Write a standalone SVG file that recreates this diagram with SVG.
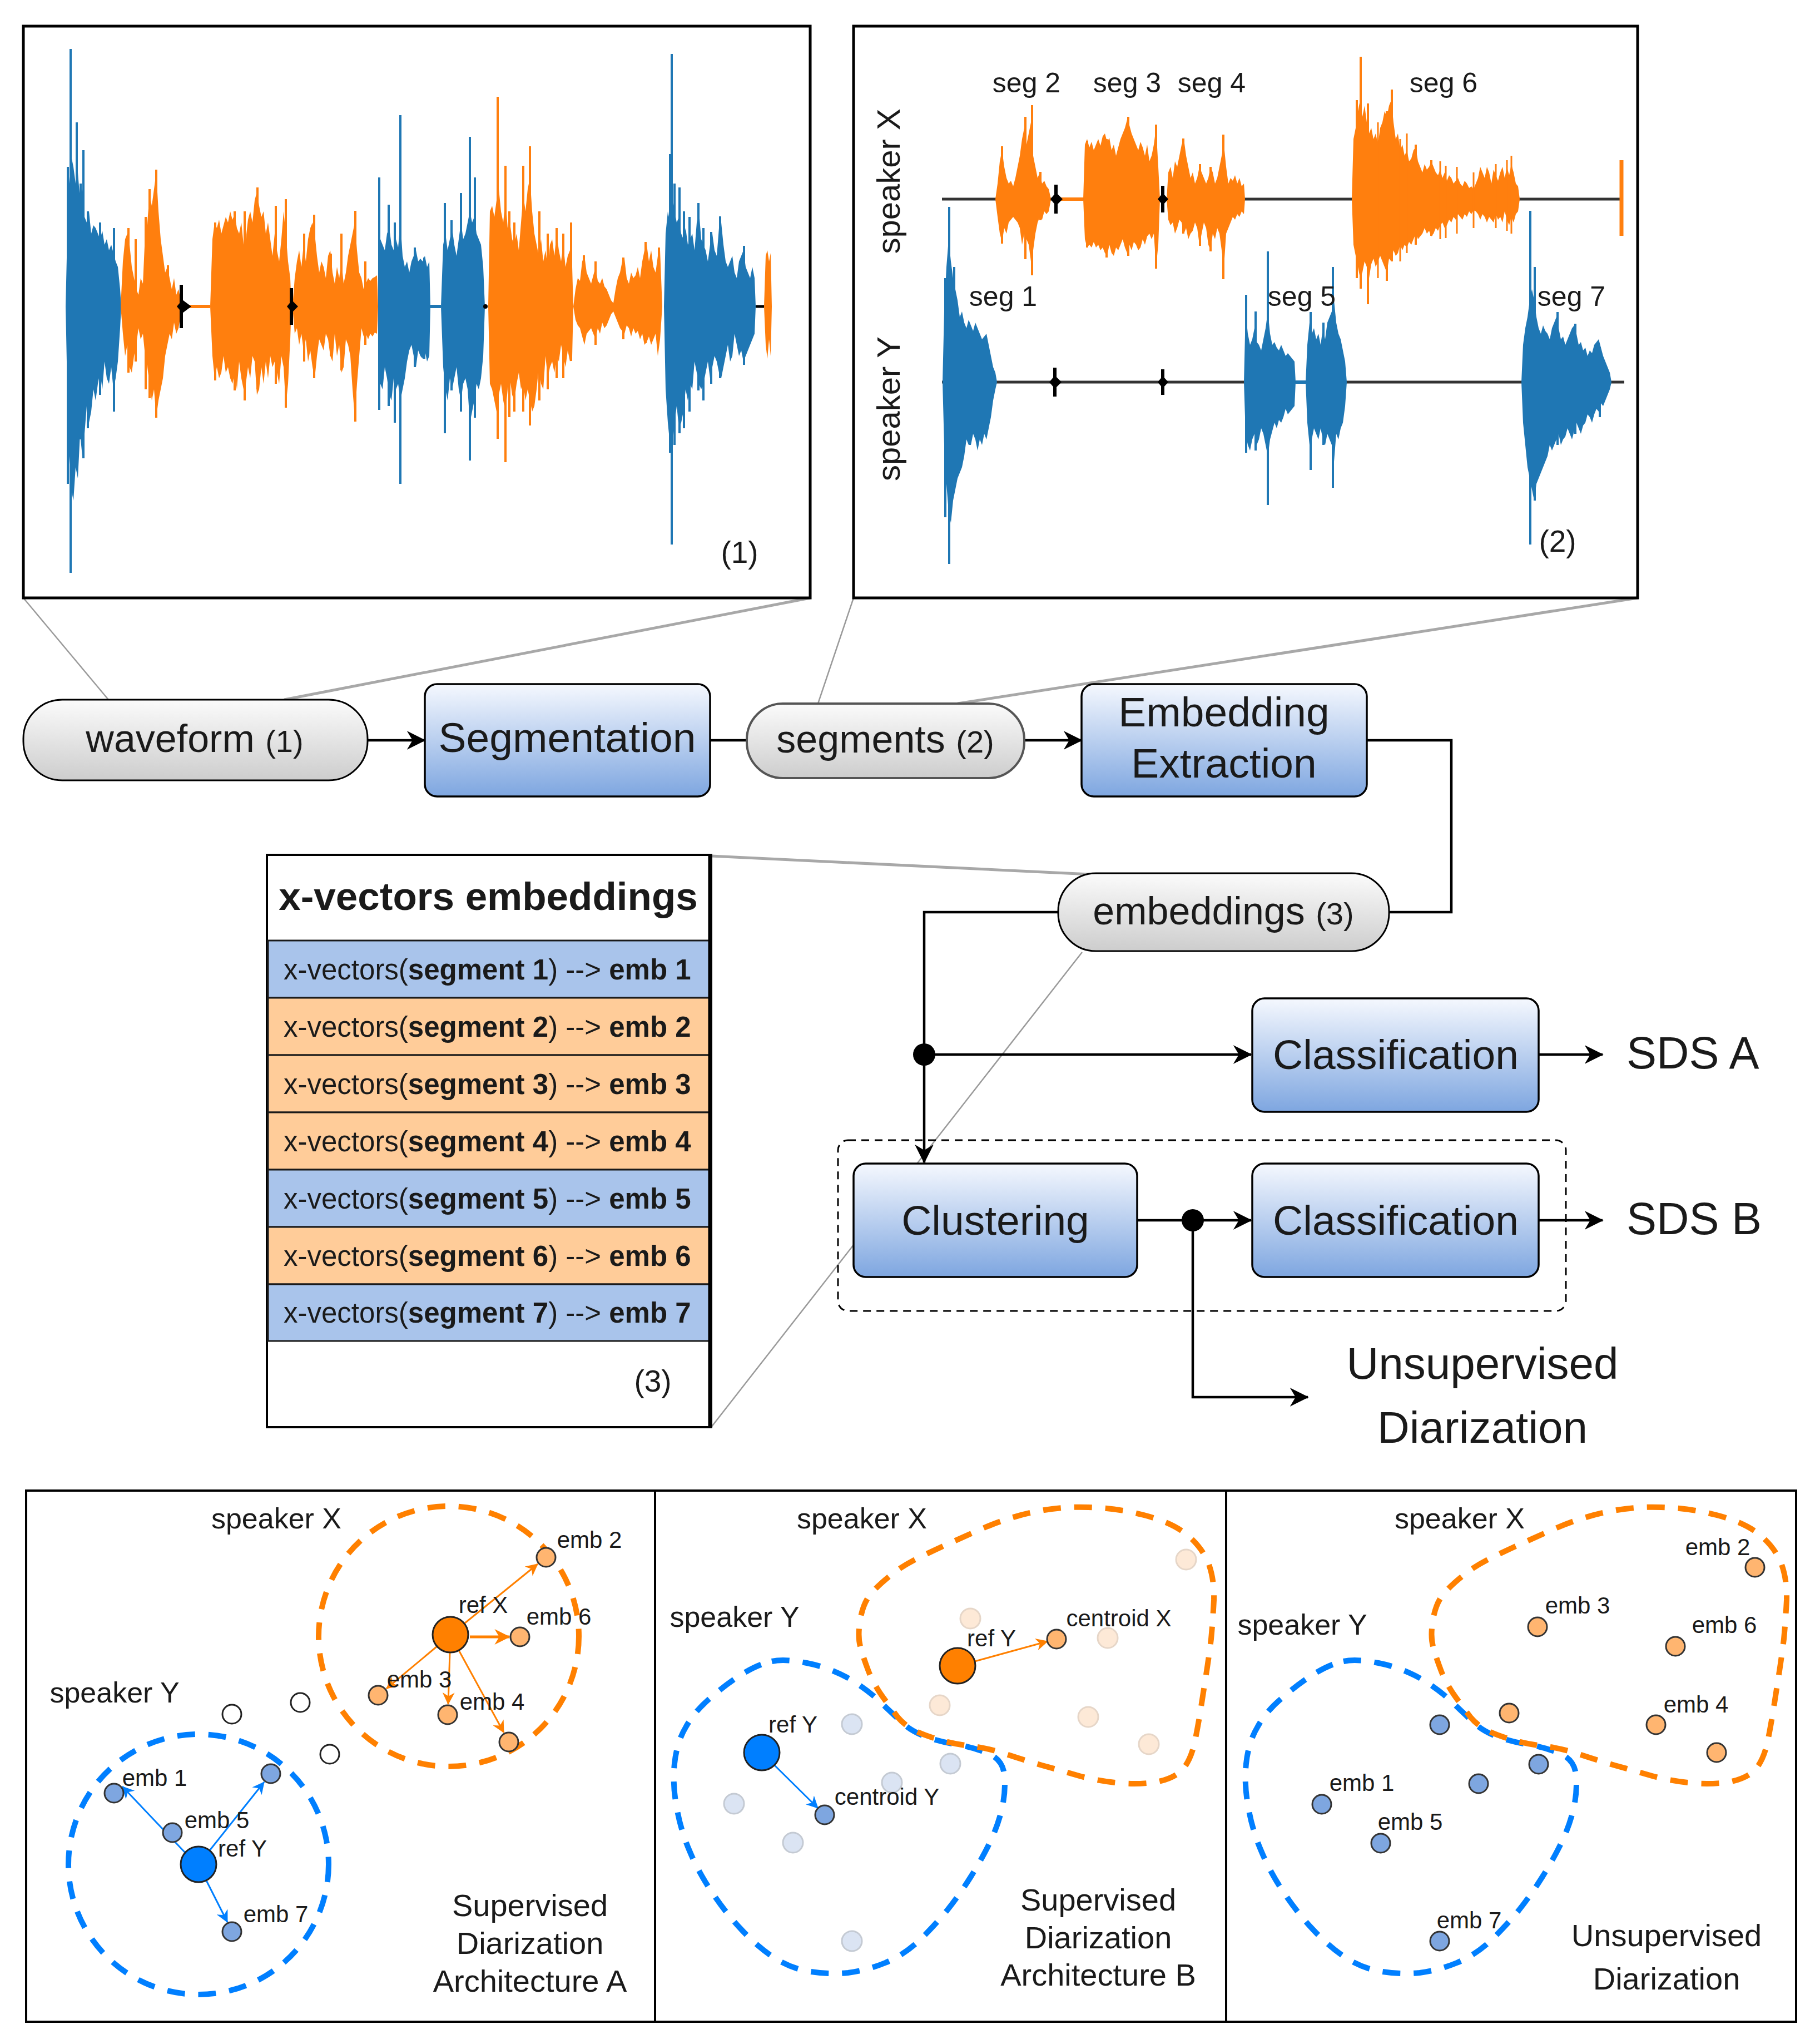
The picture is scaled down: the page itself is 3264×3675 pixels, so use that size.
<svg xmlns="http://www.w3.org/2000/svg" width="3264" height="3675" viewBox="0 0 3264 3675">
<defs>
<linearGradient id="gBlue" x1="0" y1="0" x2="0" y2="1"><stop offset="0" stop-color="#f5f8fe"/><stop offset="1" stop-color="#7ea6e0"/></linearGradient>
<linearGradient id="gGray" x1="0" y1="0" x2="0" y2="1"><stop offset="0" stop-color="#fbfbfb"/><stop offset="1" stop-color="#cdcdcd"/></linearGradient>
<marker id="aK" viewBox="0 0 10 10" refX="9.5" refY="5" markerWidth="34" markerHeight="34" markerUnits="userSpaceOnUse" orient="auto"><path d="M0,0L10,5L0,10L3,5z" fill="#000"/></marker>
<marker id="aO" viewBox="0 0 10 10" refX="9.5" refY="5" markerWidth="22" markerHeight="22" markerUnits="userSpaceOnUse" orient="auto"><path d="M0,0L10,5L0,10L3,5z" fill="#ff8000"/></marker>
<marker id="aO2" viewBox="0 0 10 10" refX="9.5" refY="5" markerWidth="28" markerHeight="28" markerUnits="userSpaceOnUse" orient="auto"><path d="M0,0L10,5L0,10L3,5z" fill="#ff8000"/></marker>
<marker id="aB" viewBox="0 0 10 10" refX="9.5" refY="5" markerWidth="22" markerHeight="22" markerUnits="userSpaceOnUse" orient="auto"><path d="M0,0L10,5L0,10L3,5z" fill="#007fff"/></marker>
<style>
text{font-family:"Liberation Sans",Arial,sans-serif;fill:#1a1a1a}
.frame{fill:#fff;stroke:#000;stroke-width:5}
.wb{fill:#1f77b4}.wo{fill:#ff7f0e}
.sb{stroke:#1f77b4;stroke-width:4;fill:none}.so{stroke:#ff7f0e;stroke-width:4;fill:none}
.sb3{stroke:#1f77b4;stroke-width:3;fill:none}.so3{stroke:#ff7f0e;stroke-width:3;fill:none}
.mk{stroke:#000;stroke-width:6;fill:none}
.seg{font-size:50px;text-anchor:middle}
.box{fill:url(#gBlue);stroke:#000;stroke-width:3.5}
.pill{fill:url(#gGray);stroke:#000;stroke-width:3}
.lbl{font-size:75px;text-anchor:middle}
.plbl{font-size:70px;text-anchor:middle}
.conn{stroke:#000;stroke-width:4.5;fill:none}
.proj{stroke:#9a9a9a;stroke-width:2.5;fill:none}
.projT{stroke:#a8a8a8;stroke-width:5;fill:none}
.rowB{fill:#a9c4eb;stroke:#1a1a1a;stroke-width:3}
.rowO{fill:#ffcc99;stroke:#1a1a1a;stroke-width:3}
.rt{font-size:51px}
.odash{fill:none;stroke:#ff8000;stroke-width:10;stroke-dasharray:32 24}
.bdash{fill:none;stroke:#007fff;stroke-width:10;stroke-dasharray:32 24}
.po{fill:#ffb570;stroke:#333;stroke-width:3}
.pb{fill:#7ea6e0;stroke:#333;stroke-width:3}
.pw{fill:#fff;stroke:#222;stroke-width:3}
.fo{fill:#fde9d7;stroke:#e6d6c8;stroke-width:3}
.fb{fill:#dbe4f3;stroke:#c4cad3;stroke-width:3}
.refO{fill:#ff8000;stroke:#222;stroke-width:3}
.refB{fill:#007fff;stroke:#222;stroke-width:3}
.ao{stroke:#ff8000;stroke-width:3;fill:none}
.ab{stroke:#007fff;stroke-width:3;fill:none}
.sm{font-size:42px;text-anchor:middle}
.sp{font-size:52px;text-anchor:middle}
.cap{font-size:56px;text-anchor:middle}
</style>
</defs>

<!-- projection lines -->
<g id="projections">
<path class="proj" d="M42,1075L195,1258"/>
<path class="projT" d="M1457,1075L511,1258"/>
<path class="proj" d="M1535,1075L1471,1265"/>
<path class="projT" d="M2945,1075L1722,1265"/>
<path class="projT" d="M1279,1539L1960,1572"/>
<path class="proj" d="M1279,2566L1946,1712"/>
</g>

<!-- Box 1: waveform -->
<g id="waveform-plot">
<rect class="frame" x="42" y="47" width="1415" height="1028"/>
<path d="M326,551H378" stroke="#ff7f0e" stroke-width="6"/>
<path d="M774,551H793" stroke="#1f77b4" stroke-width="6"/>
<path d="M1359,551H1374" stroke="#000" stroke-width="5"/>
<polygon class="wb" points="118,551 121,420 124,330 128,280 132,300 136,330 140,310 144,360 148,340 152,390 156,400 160,380 164,420 168,405 172,410 176,420 180,430 184,415 188,440 192,430 196,450 200,440 204,455 208,470 212,480 216,520 218,551 216,590 212,650 208,680 204,700 200,660 196,690 192,680 188,650 184,700 180,670 176,690 172,720 168,700 164,740 160,760 156,730 152,780 148,820 144,780 140,860 136,840 132,900 128,880 124,820 121,700"/>
<path class="sb" d="M127,88V1030M122,300V870M138,220V830M150,270V824M145,330V790M158,380V770M180,400V710M205,410V740"/>
<polygon class="wo" points="217,551 221,470 225,430 229,420 233,440 237,480 241,500 245,520 249,530 253,500 257,510 261,420 265,400 269,350 273,370 277,340 281,310 285,380 289,430 293,460 297,490 301,480 305,500 309,520 313,500 317,530 321,520 326,545 326,560 321,590 317,600 313,580 309,610 305,600 301,620 297,640 293,680 289,700 285,720 281,750 277,700 273,720 269,690 265,660 261,640 257,600 253,610 249,590 245,620 241,640 237,670 233,660 229,620 225,640 221,600"/>
<path class="so" d="M231,410V670M281,305V751M269,340V716M302,477V603M262,390V700M244,430V650"/>
<polygon class="wo" points="378,551 382,430 386,400 390,410 394,395 398,420 402,405 406,390 410,400 414,380 418,395 422,385 426,410 430,420 434,400 438,440 442,430 446,395 450,380 454,400 458,360 462,345 466,370 470,390 474,380 478,420 482,400 486,430 490,460 494,420 498,450 502,470 506,430 510,380 514,420 518,470 522,500 524,551 522,610 518,690 514,730 510,660 506,640 502,690 498,670 494,650 490,660 486,640 482,680 478,650 474,690 470,660 466,700 462,710 458,650 454,640 450,680 446,660 442,690 438,700 434,680 430,650 426,700 422,670 418,690 414,680 410,660 406,670 402,640 398,670 394,680 390,660 386,680 382,640"/>
<path class="so" d="M463,337V700M514,358V733M422,380V702M387,400V684M440,380V720M496,370V690"/>
<polygon class="wo" points="526,551 530,500 534,470 538,450 542,480 546,440 550,470 554,430 558,410 562,400 566,420 570,460 574,490 578,470 582,480 586,500 590,460 594,450 598,490 602,510 606,480 610,500 614,470 618,510 622,490 626,460 630,440 634,420 638,400 642,450 646,490 650,500 654,520 658,510 662,500 666,505 670,500 674,498 678,495 680,551 678,600 674,598 670,605 666,600 662,610 658,600 654,605 650,590 646,640 642,690 638,750 634,700 630,640 626,620 622,610 618,660 614,670 610,620 606,640 602,600 598,650 594,640 590,610 586,600 582,630 578,620 574,610 570,640 566,680 562,660 558,630 554,650 550,610 546,630 542,600 538,620 534,590 530,600"/>
<path class="so" d="M565,386V680M639,379V758M614,420V666M595,456V640M547,420V650M657,470V620"/>
<polygon class="wb" points="680,551 684,430 688,440 692,450 696,420 700,410 704,440 708,450 712,430 716,445 720,400 724,460 728,480 732,470 736,490 740,470 744,460 748,450 752,470 756,465 760,470 764,460 768,480 772,470 774,551 772,640 768,650 764,630 760,645 756,640 752,630 748,660 744,640 740,620 736,630 732,650 728,680 724,700 720,720 716,690 712,700 708,680 704,720 700,710 696,680 692,660 688,700 684,690"/>
<path class="sb" d="M682,319V737M699,368V730M720,207V870M746,445V660M763,463V645M710,400V760"/>
<polygon class="wb" points="793,551 797,440 801,420 805,450 809,430 813,410 817,440 821,460 825,430 829,400 833,430 837,420 841,400 845,380 849,400 853,390 857,420 861,430 865,440 869,480 872,551 869,640 865,680 861,700 857,690 853,720 849,740 845,760 841,700 837,680 833,690 829,720 825,700 821,660 817,680 813,700 809,680 805,720 801,700 797,660"/>
<path class="sb" d="M800,365V779M829,347V740M845,246V828M854,319V751M812,396V702"/>
<polygon class="wo" points="878,551 881,380 885,370 889,390 893,360 897,340 901,380 905,400 909,360 913,410 917,400 921,430 925,440 929,420 933,450 937,400 941,350 945,380 949,340 953,320 957,380 961,420 965,440 969,460 973,430 977,470 981,450 985,480 989,440 993,430 997,460 1001,420 1005,450 1009,470 1013,440 1017,480 1021,460 1025,450 1029,480 1031,551 1029,640 1025,650 1021,630 1017,660 1013,640 1009,620 1005,650 1001,640 997,670 993,650 989,660 985,680 981,640 977,700 973,690 969,660 965,700 961,730 957,740 953,720 949,700 945,720 941,690 937,700 933,670 929,690 925,720 921,710 917,680 913,700 909,740 905,720 901,690 897,710 893,740 889,720 885,700 881,690"/>
<path class="so" d="M895,174V789M909,298V831M953,263V765M941,298V740M916,380V750M1027,400V649M1001,410V680M970,380V720M925,400V740M985,420V700M1013,420V680"/>
<polygon class="wo" points="1031,551 1035,520 1039,500 1043,505 1047,470 1051,460 1055,490 1059,500 1063,510 1067,495 1071,480 1075,505 1079,510 1083,500 1087,515 1091,520 1095,530 1099,540 1103,545 1107,520 1111,500 1115,490 1119,470 1123,465 1127,500 1131,510 1135,490 1139,500 1143,495 1147,480 1151,500 1155,470 1159,450 1163,440 1167,470 1171,450 1175,480 1179,490 1183,460 1187,450 1191,551 1187,610 1183,640 1179,600 1175,610 1171,620 1167,605 1163,615 1159,620 1155,600 1151,610 1147,595 1143,600 1139,590 1135,605 1131,590 1127,585 1123,600 1119,595 1115,590 1111,580 1107,570 1103,560 1099,565 1095,575 1091,585 1087,590 1083,580 1079,600 1075,590 1071,610 1067,600 1063,590 1059,595 1055,600 1051,620 1047,605 1043,590 1039,585 1035,575"/>
<path class="so" d="M1050,459V596M1121,463V610M1161,435V617M1185,445V603M1071,470V620"/>
<polygon class="wb" points="1194,551 1197,420 1201,380 1205,400 1209,360 1213,380 1217,400 1221,390 1225,420 1229,430 1233,410 1237,440 1241,430 1245,420 1249,450 1253,400 1257,380 1261,430 1265,440 1269,450 1273,470 1277,440 1281,420 1285,450 1289,460 1293,410 1297,400 1301,440 1305,470 1309,480 1313,470 1317,460 1321,490 1325,500 1329,470 1333,460 1337,450 1341,480 1345,490 1349,500 1353,480 1357,500 1359,551 1357,600 1353,610 1349,620 1345,630 1341,640 1337,650 1333,630 1329,640 1325,620 1321,600 1317,640 1313,650 1309,620 1305,640 1301,660 1297,680 1293,670 1289,650 1285,640 1281,660 1277,680 1273,650 1269,670 1265,690 1261,700 1257,690 1253,670 1249,650 1245,700 1241,690 1237,720 1233,700 1229,740 1225,760 1221,770 1217,730 1213,760 1209,790 1205,800 1201,760 1197,700"/>
<path class="sb" d="M1208,97V979M1205,277V814M1222,337V779M1256,365V702M1295,389V680M1338,442V656M1279,417V690M1240,390V740M1213,330V800M1230,380V770M1265,410V720"/>
<polygon class="wo" points="1374,551 1377,460 1380,450 1383,470 1386,455 1388,551 1386,640 1383,610 1380,645 1377,620"/>
<path class="mk" d="M326,512V590M524,518V584"/>
<polygon points="318,551 328,539 344,551 328,563" fill="#000"/>
<polygon points="516,551 525,540 536,551 525,562" fill="#000"/>
<circle cx="873" cy="551" r="4" fill="#000"/>
<text x="1330" y="1012" font-size="55" text-anchor="middle">(1)</text>
</g>

<!-- Box 2: segments -->
<g id="segments-plot">
<rect class="frame" x="1535" y="47" width="1410" height="1028"/>
<path d="M1694,358H2916M1694,687H2921" stroke="#333" stroke-width="5"/>
<path d="M1899,358H1948" stroke="#ff7f0e" stroke-width="6"/>
<path d="M2330,687H2348" stroke="#1f77b4" stroke-width="6"/>
<polygon class="wo" points="1790,358 1794,330 1798,290 1802,270 1806,300 1810,320 1814,330 1818,325 1822,335 1826,320 1830,300 1834,280 1838,250 1842,230 1846,260 1850,240 1854,220 1858,280 1862,300 1866,320 1870,310 1874,330 1878,325 1882,335 1886,340 1890,358 1886,380 1882,385 1878,380 1874,395 1870,390 1866,400 1862,420 1858,450 1854,470 1850,440 1846,430 1842,420 1838,440 1834,410 1830,400 1826,395 1822,390 1818,395 1814,400 1810,420 1806,410 1802,435 1798,420 1794,390"/>
<path class="so" d="M1856,189V495M1802,263V438M1844,210V466M1871,309V396"/>
<polygon class="wo" points="1948,358 1951,260 1955,250 1959,265 1963,255 1967,270 1971,260 1975,250 1979,262 1983,245 1987,240 1991,255 1995,248 1999,270 2003,260 2007,280 2011,265 2015,250 2019,240 2023,230 2027,215 2031,225 2035,240 2039,250 2043,260 2047,270 2051,255 2055,265 2059,280 2063,260 2067,290 2071,280 2075,260 2079,230 2083,300 2086,358 2083,440 2079,480 2075,420 2071,430 2067,420 2063,425 2059,440 2055,430 2051,445 2047,450 2043,440 2039,435 2035,450 2031,440 2027,455 2023,445 2019,430 2015,440 2011,450 2007,445 2003,460 1999,455 1995,440 1991,460 1987,455 1983,445 1979,450 1975,440 1971,445 1967,435 1963,445 1959,440 1955,445 1951,430"/>
<path class="so" d="M2029,210V460M2079,224V483M1990,250V463M1955,253V445"/>
<polygon class="wo" points="2098,358 2101,310 2105,300 2109,320 2113,290 2117,300 2121,280 2125,260 2129,250 2133,280 2137,300 2141,320 2145,310 2149,330 2153,320 2157,300 2161,310 2165,320 2169,330 2173,320 2177,300 2181,310 2185,330 2189,320 2193,300 2197,280 2201,260 2205,300 2209,330 2213,320 2217,325 2221,315 2225,330 2229,320 2233,335 2237,330 2239,358 2237,385 2233,380 2229,390 2225,385 2221,395 2217,390 2213,400 2209,410 2205,420 2201,480 2197,450 2193,420 2189,410 2185,430 2181,420 2177,450 2173,440 2169,410 2165,400 2161,420 2157,440 2153,410 2149,400 2145,415 2141,420 2137,430 2133,410 2129,420 2125,400 2121,395 2117,410 2113,420 2109,400 2105,405 2101,395"/>
<path class="so" d="M2128,249V420M2200,242V502M2158,295V442M2177,300V452"/>
<polygon class="wo" points="2431,358 2434,250 2438,230 2442,200 2446,180 2450,210 2454,190 2458,220 2462,240 2466,230 2470,250 2474,240 2478,260 2482,230 2486,220 2490,200 2494,210 2498,190 2502,180 2506,220 2510,250 2514,240 2518,270 2522,260 2526,280 2530,270 2534,290 2538,285 2542,270 2546,265 2550,290 2554,300 2558,310 2562,295 2566,305 2570,300 2574,290 2578,300 2582,310 2586,315 2590,305 2594,320 2598,310 2602,325 2606,315 2610,320 2614,330 2618,325 2622,320 2626,330 2630,335 2634,325 2638,330 2642,338 2646,335 2650,340 2654,330 2658,320 2662,300 2666,310 2670,320 2674,300 2678,310 2682,330 2686,305 2690,315 2694,325 2698,310 2702,300 2706,320 2710,300 2714,315 2718,295 2722,310 2726,330 2730,335 2733,358 2730,380 2726,385 2722,400 2718,390 2714,405 2710,395 2706,380 2702,400 2698,390 2694,395 2690,385 2686,400 2682,395 2678,390 2674,400 2670,390 2666,385 2662,395 2658,385 2654,380 2650,378 2646,385 2642,380 2638,390 2634,385 2630,395 2626,390 2622,385 2618,395 2614,390 2610,400 2606,395 2602,405 2598,410 2594,400 2590,405 2586,415 2582,410 2578,420 2574,425 2570,415 2566,420 2562,410 2558,420 2554,425 2550,430 2546,420 2542,430 2538,440 2534,435 2530,445 2526,440 2522,450 2518,440 2514,455 2510,460 2506,450 2502,470 2498,465 2494,490 2490,480 2486,470 2482,460 2478,470 2474,480 2470,465 2466,475 2462,500 2458,480 2454,470 2450,490 2446,500 2442,480 2438,460 2434,440"/>
<path class="so" d="M2447,102V519M2460,186V547M2503,161V470M2494,200V505M2546,260V440M2574,288V424M2440,180V500"/>
<path class="so3" d="M2478,220V500M2518,250V470M2530,240V455M2590,290V430M2620,300V420M2650,310V410M2690,295V410M2710,288V415M2718,280V420M2600,298V428"/>
<path d="M2916,288V424" stroke="#ff7f0e" stroke-width="7"/>
<polygon class="wb" points="1695,687 1698,560 1702,480 1706,430 1710,470 1714,500 1718,520 1722,540 1726,570 1730,560 1734,580 1738,590 1742,575 1746,585 1750,595 1754,580 1758,590 1762,600 1766,610 1770,605 1774,600 1778,620 1782,640 1786,660 1790,670 1793,687 1790,700 1786,720 1782,750 1778,770 1774,790 1770,780 1766,800 1762,790 1758,810 1754,790 1750,780 1746,800 1742,800 1738,790 1734,820 1730,840 1726,850 1722,860 1718,880 1714,900 1710,940 1706,920 1702,870 1698,800"/>
<path class="sb" d="M1707,372V1014M1700,500V930M1716,480V880"/>
<polygon class="wb" points="2237,687 2240,560 2244,600 2248,620 2252,610 2256,590 2260,615 2264,620 2268,630 2272,610 2276,590 2280,560 2284,600 2288,620 2292,615 2296,625 2300,630 2304,620 2308,630 2312,640 2316,635 2320,640 2324,645 2328,650 2330,687 2328,730 2324,735 2320,740 2316,745 2312,735 2308,750 2304,760 2300,755 2296,770 2292,760 2288,775 2284,790 2280,820 2276,800 2272,780 2268,770 2264,790 2260,800 2256,780 2252,790 2248,810 2244,800 2240,780"/>
<polygon class="wb" points="2348,687 2351,620 2355,580 2359,600 2363,590 2367,610 2371,600 2375,620 2379,590 2383,610 2387,580 2391,570 2395,560 2399,540 2403,580 2407,600 2411,610 2415,630 2419,650 2422,687 2419,730 2415,760 2411,770 2407,790 2403,780 2399,830 2395,800 2391,790 2387,780 2383,800 2379,790 2375,770 2371,790 2367,780 2363,770 2359,790 2355,800 2351,760"/>
<path class="sb" d="M2280,452V908M2241,530V814M2397,480V877M2357,561V845M2258,560V810M2380,580V800"/>
<polygon class="wb" points="2736,687 2739,620 2743,590 2747,570 2751,540 2755,520 2759,540 2763,570 2767,590 2771,600 2775,585 2779,595 2783,600 2787,610 2791,590 2795,580 2799,570 2803,590 2807,610 2811,605 2815,620 2819,610 2823,600 2827,590 2831,585 2835,600 2839,620 2843,615 2847,630 2851,625 2855,640 2859,630 2863,635 2867,620 2871,615 2875,610 2879,625 2883,640 2887,650 2891,660 2895,670 2898,687 2895,700 2891,710 2887,720 2883,730 2879,725 2875,740 2871,735 2867,745 2863,760 2859,750 2855,745 2851,760 2847,765 2843,780 2839,770 2835,760 2831,775 2827,790 2823,780 2819,770 2815,785 2811,790 2807,800 2803,780 2799,790 2795,800 2791,810 2787,800 2783,820 2779,830 2775,840 2771,850 2767,860 2763,870 2759,900 2755,880 2751,860 2747,840 2743,800 2739,760"/>
<path class="sb" d="M2752,379V979M2760,480V900M2801,561V800M2833,582V780M2877,624V750"/>
<path class="mk" d="M1899,332V384M2091,334V382M1897,661V713M2091,664V710"/>
<polygon points="1889,358 1899,346 1911,358 1899,370" fill="#000"/>
<polygon points="2082,358 2091,347 2101,358 2091,369" fill="#000"/>
<polygon points="1887,687 1897,675 1909,687 1897,699" fill="#000"/>
<polygon points="2082,687 2091,676 2101,687 2091,698" fill="#000"/>
<text class="seg" x="1846" y="166">seg 2</text>
<text class="seg" x="2027" y="166">seg 3</text>
<text class="seg" x="2179" y="166">seg 4</text>
<text class="seg" x="2596" y="166">seg 6</text>
<text class="seg" x="1804" y="550">seg 1</text>
<text class="seg" x="2341" y="550">seg 5</text>
<text class="seg" x="2826" y="550">seg 7</text>
<text transform="translate(1618,326) rotate(-90)" font-size="58" text-anchor="middle">speaker X</text>
<text transform="translate(1618,735) rotate(-90)" font-size="58" text-anchor="middle">speaker Y</text>
<text x="2801" y="992" font-size="55" text-anchor="middle">(2)</text>
</g>

<!-- connectors -->
<g id="connectors">
<path class="conn" d="M661,1331H764" marker-end="url(#aK)"/>
<path class="conn" d="M1277,1331H1343"/>
<path class="conn" d="M1842,1331H1945" marker-end="url(#aK)"/>
<path class="conn" d="M2458,1331H2610V1640H2498"/>
<path class="conn" d="M1903,1640H1662V2090" marker-end="url(#aK)"/>
<path class="conn" d="M1662,1896H2250" marker-end="url(#aK)"/>
<path class="conn" d="M2767,1896H2882" marker-end="url(#aK)"/>
<path class="conn" d="M2045,2194H2250" marker-end="url(#aK)"/>
<path class="conn" d="M2767,2194H2882" marker-end="url(#aK)"/>
<path class="conn" d="M2145,2194V2512H2352" marker-end="url(#aK)"/>
<circle cx="1662" cy="1896" r="20" fill="#000"/>
<circle cx="2145" cy="2194" r="20" fill="#000"/>
</g>

<!-- nodes -->
<g id="node-waveform">
<rect class="pill" x="42" y="1258" width="619" height="145" rx="70"/>
<text class="plbl" x="350" y="1352">waveform <tspan font-size="56">(1)</tspan></text>
</g>
<g id="node-segmentation">
<rect class="box" x="764" y="1230" width="513" height="202" rx="22"/>
<text class="lbl" x="1020" y="1352">Segmentation</text>
</g>
<g id="node-segments">
<rect class="pill" x="1343" y="1265" width="499" height="134" rx="65" style="stroke:#555;stroke-width:4"/>
<text class="plbl" x="1592" y="1353">segments <tspan font-size="56">(2)</tspan></text>
</g>
<g id="node-embedding-extraction">
<rect class="box" x="1945" y="1230" width="513" height="202" rx="22"/>
<text class="lbl" x="2201" y="1306">Embedding</text>
<text class="lbl" x="2201" y="1398">Extraction</text>
</g>
<g id="node-embeddings">
<rect class="pill" x="1903" y="1570" width="595" height="140" rx="68"/>
<text class="plbl" x="2200" y="1662">embeddings <tspan font-size="56">(3)</tspan></text>
</g>
<g id="node-classification-a">
<rect class="box" x="2252" y="1795" width="515" height="204" rx="22"/>
<text class="lbl" x="2510" y="1922">Classification</text>
</g>
<g id="group-sds-b">
<rect x="1507" y="2050" width="1309" height="307" rx="18" fill="none" stroke="#000" stroke-width="3" stroke-dasharray="14 10"/>
</g>
<g id="node-clustering">
<rect class="box" x="1535" y="2092" width="510" height="204" rx="22"/>
<text class="lbl" x="1790" y="2220">Clustering</text>
</g>
<g id="node-classification-b">
<rect class="box" x="2252" y="2092" width="515" height="204" rx="22"/>
<text class="lbl" x="2510" y="2220">Classification</text>
</g>
<g id="out-sds-a"><text x="2925" y="1921" font-size="81">SDS A</text></g>
<g id="out-sds-b"><text x="2925" y="2219" font-size="81">SDS B</text></g>
<g id="out-unsupervised">
<text x="2666" y="2479" font-size="80" text-anchor="middle">Unsupervised</text>
<text x="2666" y="2594" font-size="80" text-anchor="middle">Diarization</text>
</g>

<!-- table -->
<g id="table-xvectors">
<rect x="480" y="1537" width="799" height="1029" fill="#fff" stroke="#000" stroke-width="4"/>
<text x="878" y="1636" font-size="71" font-weight="bold" text-anchor="middle">x-vectors embeddings</text>
<rect class="rowB" x="482" y="1691" width="795" height="103"/>
<rect class="rowO" x="482" y="1794" width="795" height="103"/>
<rect class="rowO" x="482" y="1897" width="795" height="103"/>
<rect class="rowO" x="482" y="2000" width="795" height="103"/>
<rect class="rowB" x="482" y="2103" width="795" height="103"/>
<rect class="rowO" x="482" y="2206" width="795" height="103"/>
<rect class="rowB" x="482" y="2309" width="795" height="102"/>
<path d="M1277,1537V2566" stroke="#000" stroke-width="7"/>
<text class="rt" x="510" y="1761">x-vectors(<tspan font-weight="bold">segment 1</tspan>) --&gt; <tspan font-weight="bold">emb 1</tspan></text>
<text class="rt" x="510" y="1864">x-vectors(<tspan font-weight="bold">segment 2</tspan>) --&gt; <tspan font-weight="bold">emb 2</tspan></text>
<text class="rt" x="510" y="1967">x-vectors(<tspan font-weight="bold">segment 3</tspan>) --&gt; <tspan font-weight="bold">emb 3</tspan></text>
<text class="rt" x="510" y="2070">x-vectors(<tspan font-weight="bold">segment 4</tspan>) --&gt; <tspan font-weight="bold">emb 4</tspan></text>
<text class="rt" x="510" y="2173">x-vectors(<tspan font-weight="bold">segment 5</tspan>) --&gt; <tspan font-weight="bold">emb 5</tspan></text>
<text class="rt" x="510" y="2276">x-vectors(<tspan font-weight="bold">segment 6</tspan>) --&gt; <tspan font-weight="bold">emb 6</tspan></text>
<text class="rt" x="510" y="2378">x-vectors(<tspan font-weight="bold">segment 7</tspan>) --&gt; <tspan font-weight="bold">emb 7</tspan></text>
<text x="1174" y="2502" font-size="55" text-anchor="middle">(3)</text>
</g>

<!-- bottom panels -->
<g id="panels-frame">
<rect x="47" y="2680" width="3183" height="955" fill="none" stroke="#000" stroke-width="4"/>
<path d="M1178,2680V3635M2205,2680V3635" stroke="#000" stroke-width="4"/>
</g>

<g id="panel-a">
<circle class="odash" cx="807" cy="2942" r="234"/>
<circle class="bdash" cx="357" cy="3352" r="234"/>
<circle class="pw" cx="417" cy="3082" r="17"/>
<circle class="pw" cx="540" cy="3061" r="17"/>
<circle class="pw" cx="593" cy="3154" r="17"/>
<path class="ao" d="M835,2919L967,2812" marker-end="url(#aO)"/>
<path class="ao" d="M845,2943H916" style="stroke-width:5" marker-end="url(#aO2)"/>
<path class="ao" d="M786,2960L695,3036" marker-end="url(#aO)"/>
<path class="ao" d="M809,2971L806,3064" marker-end="url(#aO)"/>
<path class="ao" d="M825,2967L906,3115" marker-end="url(#aO)"/>
<path class="ab" d="M333,3331L220,3212" marker-end="url(#aB)"/>
<path class="ab" d="M377,3327L475,3204" marker-end="url(#aB)"/>
<path class="ab" d="M371,3381L409,3456" marker-end="url(#aB)"/>
<circle class="refO" cx="810" cy="2939" r="32"/>
<circle class="po" cx="982" cy="2800" r="17"/>
<circle class="po" cx="935" cy="2943" r="17"/>
<circle class="po" cx="680" cy="3048" r="17"/>
<circle class="po" cx="805" cy="3083" r="17"/>
<circle class="po" cx="915" cy="3132" r="17"/>
<circle class="refB" cx="357" cy="3352" r="32"/>
<circle class="pb" cx="205" cy="3224" r="17"/>
<circle class="pb" cx="487" cy="3189" r="17"/>
<circle class="pb" cx="310" cy="3295" r="17"/>
<circle class="pb" cx="417" cy="3473" r="17"/>
<text class="sp" x="497" y="2748">speaker X</text>
<text class="sp" x="206" y="3061">speaker Y</text>
<text class="sm" x="869" y="2900">ref X</text>
<text class="sm" x="1060" y="2783">emb 2</text>
<text class="sm" x="1005" y="2921">emb 6</text>
<text class="sm" x="754" y="3034">emb 3</text>
<text class="sm" x="885" y="3074">emb 4</text>
<text class="sm" x="278" y="3211">emb 1</text>
<text class="sm" x="390" y="3287">emb 5</text>
<text class="sm" x="436" y="3338">ref Y</text>
<text class="sm" x="496" y="3456">emb 7</text>
<text class="cap" x="953" y="3445">Supervised</text>
<text class="cap" x="953" y="3513">Diarization</text>
<text class="cap" x="953" y="3581">Architecture A</text>
</g>

<g id="panel-b">
<path id="blobB" class="bdash" d="M1388,2987 Q1411,2982 1451,2990 Q1491,2998 1525,3017 Q1558,3036 1582,3059 Q1605,3081 1622,3097 Q1639,3113 1666,3123 Q1692,3132 1723,3137 Q1753,3142 1778,3153 Q1803,3164 1806,3190 Q1809,3215 1803,3247 Q1796,3279 1781,3311 Q1766,3342 1746,3374 Q1726,3406 1703,3435 Q1679,3464 1652,3490 Q1625,3515 1592,3529 Q1558,3543 1525,3547 Q1491,3550 1458,3545 Q1424,3540 1394,3521 Q1364,3502 1334,3470 Q1304,3438 1281,3403 Q1257,3368 1241,3330 Q1224,3291 1217,3250 Q1209,3209 1213,3171 Q1217,3132 1234,3104 Q1250,3075 1281,3050 Q1311,3024 1338,3008 Q1364,2992 1388,2987 Z"/>
<path id="blobO" class="odash" d="M1547,2960 Q1542,2941 1547,2912 Q1552,2883 1565,2867 Q1578,2851 1602,2832 Q1625,2813 1666,2794 Q1706,2775 1756,2753 Q1806,2730 1857,2719 Q1907,2708 1957,2710 Q2007,2711 2057,2724 Q2107,2737 2134,2759 Q2161,2781 2173,2810 Q2184,2839 2183,2877 Q2181,2915 2178,2947 Q2174,2979 2169,3011 Q2164,3043 2159,3075 Q2154,3106 2148,3135 Q2141,3164 2128,3180 Q2114,3196 2084,3203 Q2054,3209 2014,3206 Q1974,3202 1941,3193 Q1907,3183 1874,3174 Q1840,3164 1807,3153 Q1773,3142 1743,3139 Q1712,3135 1686,3127 Q1659,3119 1642,3110 Q1625,3100 1615,3088 Q1605,3075 1589,3053 Q1572,3030 1562,3005 Q1552,2979 1547,2960 Z"/>
<circle class="fo" cx="1745" cy="2910" r="18"/>
<circle class="fo" cx="1992" cy="2945" r="18"/>
<circle class="fo" cx="2133" cy="2804" r="18"/>
<circle class="fo" cx="1690" cy="3066" r="18"/>
<circle class="fo" cx="1957" cy="3087" r="18"/>
<circle class="fo" cx="2066" cy="3136" r="18"/>
<circle class="fb" cx="1532" cy="3100" r="18"/>
<circle class="fb" cx="1709" cy="3171" r="18"/>
<circle class="fb" cx="1604" cy="3205" r="18"/>
<circle class="fb" cx="1320" cy="3243" r="18"/>
<circle class="fb" cx="1426" cy="3313" r="18"/>
<circle class="fb" cx="1532" cy="3490" r="18"/>
<path class="ao" d="M1753,2987L1884,2951" marker-end="url(#aO)"/>
<path class="ab" d="M1393,3174L1471,3251" marker-end="url(#aB)"/>
<circle class="refO" cx="1722" cy="2995" r="32"/>
<circle class="po" cx="1900" cy="2947" r="17"/>
<circle class="refB" cx="1370" cy="3151" r="32"/>
<circle class="pb" cx="1483" cy="3263" r="17"/>
<text class="sp" x="1550" y="2748">speaker X</text>
<text class="sp" x="1321" y="2925">speaker Y</text>
<text class="sm" x="1783" y="2960">ref Y</text>
<text class="sm" x="2012" y="2924">centroid X</text>
<text class="sm" x="1426" y="3115">ref Y</text>
<text class="sm" x="1595" y="3245">centroid Y</text>
<text class="cap" x="1975" y="3435">Supervised</text>
<text class="cap" x="1975" y="3503">Diarization</text>
<text class="cap" x="1975" y="3570">Architecture B</text>
</g>

<g id="panel-c">
<use href="#blobB" transform="translate(1028,0)"/>
<use href="#blobO" transform="translate(1030,0)"/>
<circle class="po" cx="3156" cy="2818" r="17"/>
<circle class="po" cx="2765" cy="2925" r="17"/>
<circle class="po" cx="3013" cy="2960" r="17"/>
<circle class="po" cx="2714" cy="3080" r="17"/>
<circle class="po" cx="2978" cy="3101" r="17"/>
<circle class="po" cx="3087" cy="3151" r="17"/>
<circle class="pb" cx="2589" cy="3101" r="17"/>
<circle class="pb" cx="2767" cy="3172" r="17"/>
<circle class="pb" cx="2659" cy="3207" r="17"/>
<circle class="pb" cx="2377" cy="3244" r="17"/>
<circle class="pb" cx="2483" cy="3314" r="17"/>
<circle class="pb" cx="2589" cy="3490" r="17"/>
<text class="sp" x="2625" y="2748">speaker X</text>
<text class="sp" x="2342" y="2939">speaker Y</text>
<text class="sm" x="3089" y="2796">emb 2</text>
<text class="sm" x="2837" y="2901">emb 3</text>
<text class="sm" x="3101" y="2936">emb 6</text>
<text class="sm" x="3050" y="3079">emb 4</text>
<text class="sm" x="2449" y="3220">emb 1</text>
<text class="sm" x="2536" y="3290">emb 5</text>
<text class="sm" x="2642" y="3467">emb 7</text>
<text class="cap" x="2997" y="3499">Unsupervised</text>
<text class="cap" x="2997" y="3577">Diarization</text>
</g>
</svg>
